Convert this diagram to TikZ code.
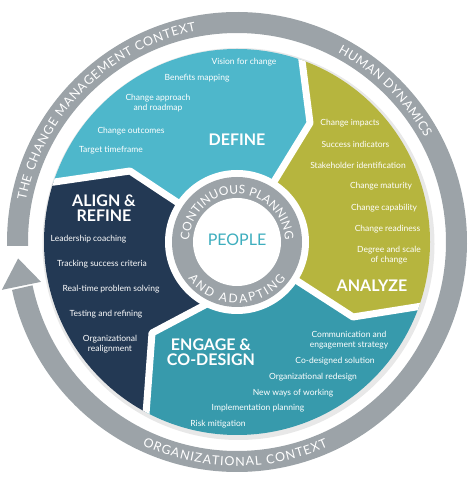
\documentclass[tikz,border=0pt]{standalone}
\usepackage{fontspec}
\setmainfont{Lato}
\usetikzlibrary{calc,decorations.text}
\definecolor{definecol}{RGB}{78,183,203}
\definecolor{analyzecol}{RGB}{182,181,62}
\definecolor{engagecol}{RGB}{55,154,172}
\definecolor{aligncol}{RGB}{35,57,84}
\definecolor{ringgray}{RGB}{156,163,168}
\definecolor{peoplecol}{RGB}{62,174,190}
\newcommand{\ringfont}{\fontsize{12.5}{12.5}\selectfont}
\newcommand{\hubfont}{\fontsize{12}{12}\selectfont}

\begin{document}
\begin{tikzpicture}[x=1pt,y=1pt]
    \tikzstyle{item}=[text=white,font=\fontsize{8.5}{10}\selectfont,align=center,inner sep=0pt]
    \tikzstyle{phase}=[text=white,font=\fontsize{16}{15}\bfseries\selectfont,align=center,inner sep=0pt]
    \tikzstyle{gap}=[white,line width=7pt,line join=round]
    \tikzstyle{ringtext}=[decorate,decoration={text along path,text align=fit to path,text color=white}]
    \useasboundingbox (0,0) rectangle (474,484);
    \coordinate (o) at (237,242);

    % outer context ring with arrow
    \draw[ringgray,line width=21pt] (o) ++(181:219.5) arc[start angle=181,end angle=-168,radius=219.5];
    \fill[ringgray] ($(o)+(191.5:240)$) -- ($(o)+(184.3:219.5)$) -- ($(o)+(191.5:200)$) -- cycle;
    \path[ringtext,decoration={text={|\ringfont|THE CHANGE MANAGEMENT CONTEXT}}]
      (o) ++(169:215) arc[start angle=169,end angle=101,radius=215];
    \path[ringtext,decoration={text={|\ringfont|HUMAN DYNAMICS}}]
      (o) ++(62:215) arc[start angle=62,end angle=29,radius=215];
    \path[ringtext,decoration={text={|\ringfont|ORGANIZATIONAL CONTEXT}}]
      (o) ++(245:224) arc[start angle=245,end angle=294,radius=224];

    % phases
    \fill[black!9] (238.5,240) circle (196);
    \begin{scope}
      \clip (o) circle (193);
      \fill[definecol] (o) -- (310,361) -- (296,470) -- (296,500) -- (-10,500) -- (-10,297) -- (20,297) -- (130,313) -- cycle;
      \fill[analyzecol] (o) -- (310,361) -- (296,470) -- (296,500) -- (500,500) -- (500,184) -- (460,184) -- (353,167) -- cycle;
      \fill[engagecol] (o) -- (353,167) -- (460,184) -- (500,184) -- (500,-20) -- (143,-20) -- (143,30) -- (146,70) -- (152,151) -- (220,187) -- cycle;
      \fill[aligncol] (o) -- (220,187) -- (152,151) -- (146,70) -- (143,30) -- (143,-20) -- (-20,-20) -- (-20,297) -- (20,297) -- (130,313) -- cycle;
      \draw[gap] (o) -- (310,361) -- (296,470);
      \draw[gap] (o) -- (130,313) -- (20,297);
      \draw[gap] (o) -- (220,187) -- (152,151) -- (146,70) -- (143,30);
      \draw[gap] (o) -- (353,167) -- (460,184);
    \end{scope}

    % hub
    \fill[white] (o) circle (72);
    \fill[ringgray] (o) circle (65);
    \fill[white] (o) circle (44);
    \path[ringtext,decoration={text={|\hubfont|CONTINUOUS PLANNING}}]
      (o) ++(178:48) arc[start angle=178,end angle=2,radius=48];
    \path[ringtext,decoration={text={|\hubfont|AND ADAPTING}}]
      (o) ++(217:61) arc[start angle=217,end angle=323,radius=61];
    \node[font=\fontsize{16}{16}\selectfont,text=peoplecol,inner sep=0pt] (people) at (237,244) {PEOPLE};

    \node[phase] (define) at (237,344) {DEFINE};
    \node[phase] (analyze) at (372,198) {ANALYZE};
    \node[phase] (align) at (104,275.5) {ALIGN \&\\REFINE};
    \node[phase] (engage) at (211,132) {ENGAGE \&\\CO-DESIGN};

    \node[item] (d1) at (244,422) {Vision for change};
    \node[item] (d2) at (197,406) {Benefits mapping};
    \node[item] (d3) at (158,380.5) {Change approach\\and roadmap};
    \node[item] (d4) at (131,353) {Change outcomes};
    \node[item] (d5) at (111,334) {Target timeframe};

    \node[item] (a1) at (350,361) {Change impacts};
    \node[item] (a2) at (355.5,340) {Success indicators};
    \node[item] (a3) at (358,319) {Stakeholder identification};
    \node[item] (a4) at (381,298) {Change maturity};
    \node[item] (a5) at (384,276) {Change capability};
    \node[item] (a6) at (387.5,255) {Change readiness};
    \node[item] (a7) at (389,229) {Degree and scale\\of change};

    \node[item] (r1) at (88.5,245) {Leadership coaching};
    \node[item] (r2) at (102,220) {Tracking success criteria};
    \node[item] (r3) at (111,195) {Real-time problem solving};
    \node[item] (r4) at (106,170) {Testing and refining};
    \node[item] (r5) at (110,140) {Organizational\\realignment};

    \node[item] (e1) at (349,143.5) {Communication and\\engagement strategy};
    \node[item] (e2) at (335,123) {Co-designed solution};
    \node[item] (e3) at (313,107) {Organizational redesign};
    \node[item] (e4) at (293,91) {New ways of working};
    \node[item] (e5) at (258,76) {Implementation planning};
    \node[item] (e6) at (218,60) {Risk mitigation};
\end{tikzpicture}
\end{document}
